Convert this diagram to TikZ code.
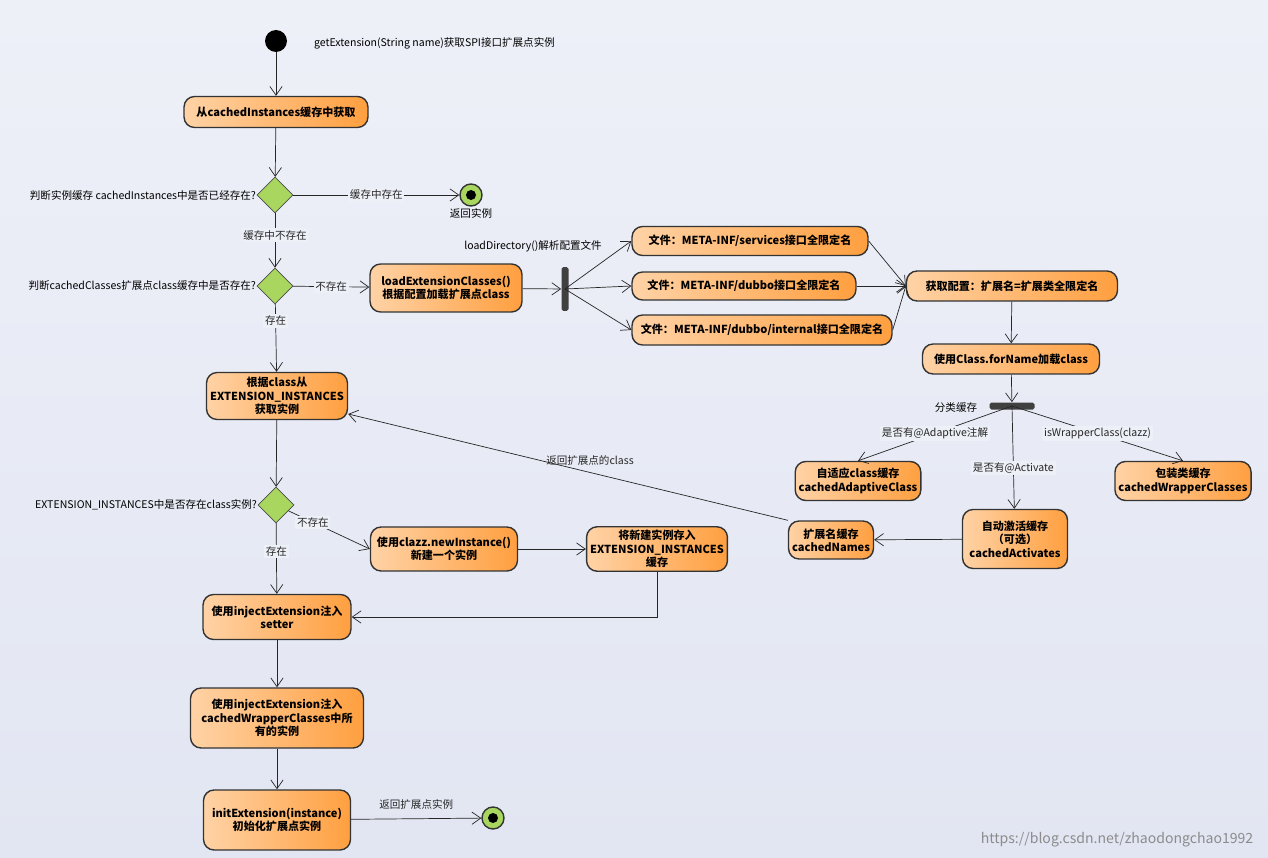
\documentclass[tikz,border=0pt]{standalone}
\usepackage{fontspec}
\setmainfont{Noto Sans CJK SC}
\usetikzlibrary{arrows.meta, shapes.geometric}

\definecolor{bgtop}{HTML}{EEF0F8}
\definecolor{bgbot}{HTML}{E2E6F2}
\definecolor{declime}{HTML}{A9D65E}

\tikzset{
  act/.style={draw=black!80, thick, rounded corners=6pt, align=center, font=\bfseries\fontsize{6.3}{7.6}\selectfont,
    left color=orange!35!white, right color=orange!75!white, inner sep=2pt},
  dec/.style={draw=black!70, diamond, fill=declime, minimum width=0.72cm, minimum height=0.72cm, inner sep=0pt},
  bar/.style={fill=black!75, draw=none, rounded corners=1pt},
  lbl/.style={font=\fontsize{6}{7}\selectfont, inner sep=1pt},
  flow/.style={-{Straight Barb[length=5pt,width=7pt]}, black!85}
}

\begin{document}
\begin{tikzpicture}[x=0.02cm, y=-0.02cm]
% background
\shade[top color=bgtop, bottom color=bgbot] (0,0) rectangle (1268,858);
\useasboundingbox (0,0) rectangle (1268,858);

% Nodes
\node (start) [circle, fill=black, minimum size=0.44cm, inner sep=0pt] at (276,41) {};
\node (get) [act, minimum width=3.68cm, minimum height=0.62cm] at (276,112) {从cachedInstances缓存中获取};
\node (d1) [dec] at (275,195) {};
\node (end1) [circle, draw=black!80, thick, fill=declime, minimum size=0.44cm, inner sep=0pt] at (471,195) {};
\node (end1dot) [circle, fill=black, minimum size=0.2cm, inner sep=0pt] at (471,195) {};
\node (d2) [dec] at (275,286) {};
\node (load) [act, minimum width=3.04cm, minimum height=0.96cm] at (446,288) {loadExtensionClasses()\\根据配置加载扩展点class};
\node (fork) [bar, minimum width=0.14cm, minimum height=0.88cm, inner sep=0pt] at (565,289) {};
\node (f1) [act, minimum width=4.72cm, minimum height=0.58cm] at (750,241) {文件：META-INF/services接口全限定名};
\node (f2) [act, minimum width=4.48cm, minimum height=0.56cm] at (744,286) {文件：META-INF/dubbo接口全限定名};
\node (f3) [act, minimum width=5.2cm, minimum height=0.6cm] at (762,330) {文件：META-INF/dubbo/internal接口全限定名};
\node (cfg) [act, minimum width=4.22cm, minimum height=0.6cm] at (1012,286) {获取配置：扩展名=扩展类全限定名};
\node (forname) [act, minimum width=3.54cm, minimum height=0.6cm] at (1011,359) {使用Class.forName加载class};
\node (sort) [bar, minimum width=0.9cm, minimum height=0.14cm, inner sep=0pt] at (1012,406) {};
\node (adapt) [act, minimum width=2.5cm, minimum height=0.78cm] at (858,481) {自适应class缓存\\cachedAdaptiveClass};
\node (wrap) [act, minimum width=2.7cm, minimum height=0.78cm] at (1183,481) {包装类缓存\\cachedWrapperClasses};
\node (activ) [act, minimum width=2.1cm, minimum height=1.18cm] at (1015,539) {自动激活缓存\\（可选）\\cachedActivates};
\node (names) [act, minimum width=1.66cm, minimum height=0.76cm] at (831,540) {扩展名缓存\\cachedNames};
\node (inst) [act, minimum width=2.82cm, minimum height=0.94cm] at (277,396) {根据class从\\EXTENSION\_INSTANCES\\获取实例};
\node (d3) [dec] at (276,505) {};
\node (newi) [act, minimum width=2.94cm, minimum height=0.88cm] at (444,549) {使用clazz.newInstance()\\新建一个实例};
\node (store) [act, minimum width=2.7cm, minimum height=0.88cm] at (657,549) {将新建实例存入\\EXTENSION\_INSTANCES\\缓存};
\node (inject1) [act, minimum width=2.96cm, minimum height=0.9cm] at (277,617) {使用injectExtension注入\\setter};
\node (inject2) [act, minimum width=3.46cm, minimum height=1.2cm] at (277,718) {使用injectExtension注入\\cachedWrapperClasses中所\\有的实例};
\node (init) [act, minimum width=2.94cm, minimum height=1.2cm] at (277,820) {initExtension(instance)\\初始化扩展点实例};
\node (end2) [circle, draw=black!80, thick, fill=declime, minimum size=0.44cm, inner sep=0pt] at (493,818) {};
\node (end2dot) [circle, fill=black, minimum size=0.2cm, inner sep=0pt] at (493,818) {};

% Texts
\node (title) [lbl, anchor=west] at (312,43) {getExtension(String name)获取SPI接口扩展点实例};
\node (q1) [lbl, anchor=east] at (258,195) {判断实例缓存 cachedInstances中是否已经存在?};
\node (q2) [lbl, anchor=east] at (258,286) {判断cachedClasses扩展点class缓存中是否存在?};
\node (q3) [lbl, anchor=east] at (259,505) {EXTENSION\_INSTANCES中是否存在class实例?};
\node (ret1) [lbl] at (471,213) {返回实例};
\node (ldir) [lbl] at (533,246) {loadDirectory()解析配置文件};
\node (fenlei) [lbl] at (956,408) {分类缓存};
\node (mark) [lbl, text=black!45, font=\fontsize{8}{9}\selectfont] at (1117,840) {https://blog.csdn.net/zhaodongchao1992};

% Edges
\draw[flow] (start) -- (get);
\draw[flow] (get) -- (d1);
\draw[flow] (d1) -- node[lbl, fill=bgtop] {缓存中存在} (end1);
\draw[flow] (d1) -- node[lbl, fill=bgtop, pos=0.4] {缓存中不存在} (d2);
\draw[flow] (d2) -- node[lbl, fill=bgtop] {不存在} (load);
\draw[flow] (d2) -- node[lbl, fill=bgtop, pos=0.25] {存在} (inst);
\draw[flow] (load) -- (fork);
\draw[flow] (fork.center) -- (f1.west);
\draw[flow] (fork.center) -- (f2.west);
\draw[flow] (fork.center) -- (f3.west);
\draw[flow] (f1.east) -- (cfg.west);
\draw[flow] (f2) -- (cfg);
\draw[flow] (f3.east) -- (cfg.west);
\draw[flow] (cfg) -- (forname);
\draw[flow] (forname) -- (sort);
\draw[flow] (sort.center) -- node[lbl, fill=bgtop] {是否有@Adaptive注解} (adapt.north);
\draw[flow] (sort.center) -- node[lbl, fill=bgtop, pos=0.6] {是否有@Activate} (activ);
\draw[flow] (sort.center) -- node[lbl, fill=bgtop] {isWrapperClass(clazz)} (wrap.north);
\draw[flow] (activ) -- (names);
\draw[flow] (names.north west) -- node[lbl, above, pos=0.45, yshift=3pt] {返回扩展点的class} (inst.east |- 0,414);
\draw[flow] (inst) -- (d3);
\draw[flow] (d3) -- node[lbl, fill=bgtop, pos=0.3] {不存在} (newi.west);
\draw[flow] (d3) -- node[lbl, fill=bgtop, pos=0.4] {存在} (inject1);
\draw[flow] (newi) -- (store);
\draw[flow] (store.south) |- (inject1.east);
\draw[flow] (inject1) -- (inject2);
\draw[flow] (inject2) -- (init);
\draw[flow] (init) -- node[lbl, above, pos=0.5, yshift=4pt] {返回扩展点实例} (end2);
\end{tikzpicture}
\end{document}
